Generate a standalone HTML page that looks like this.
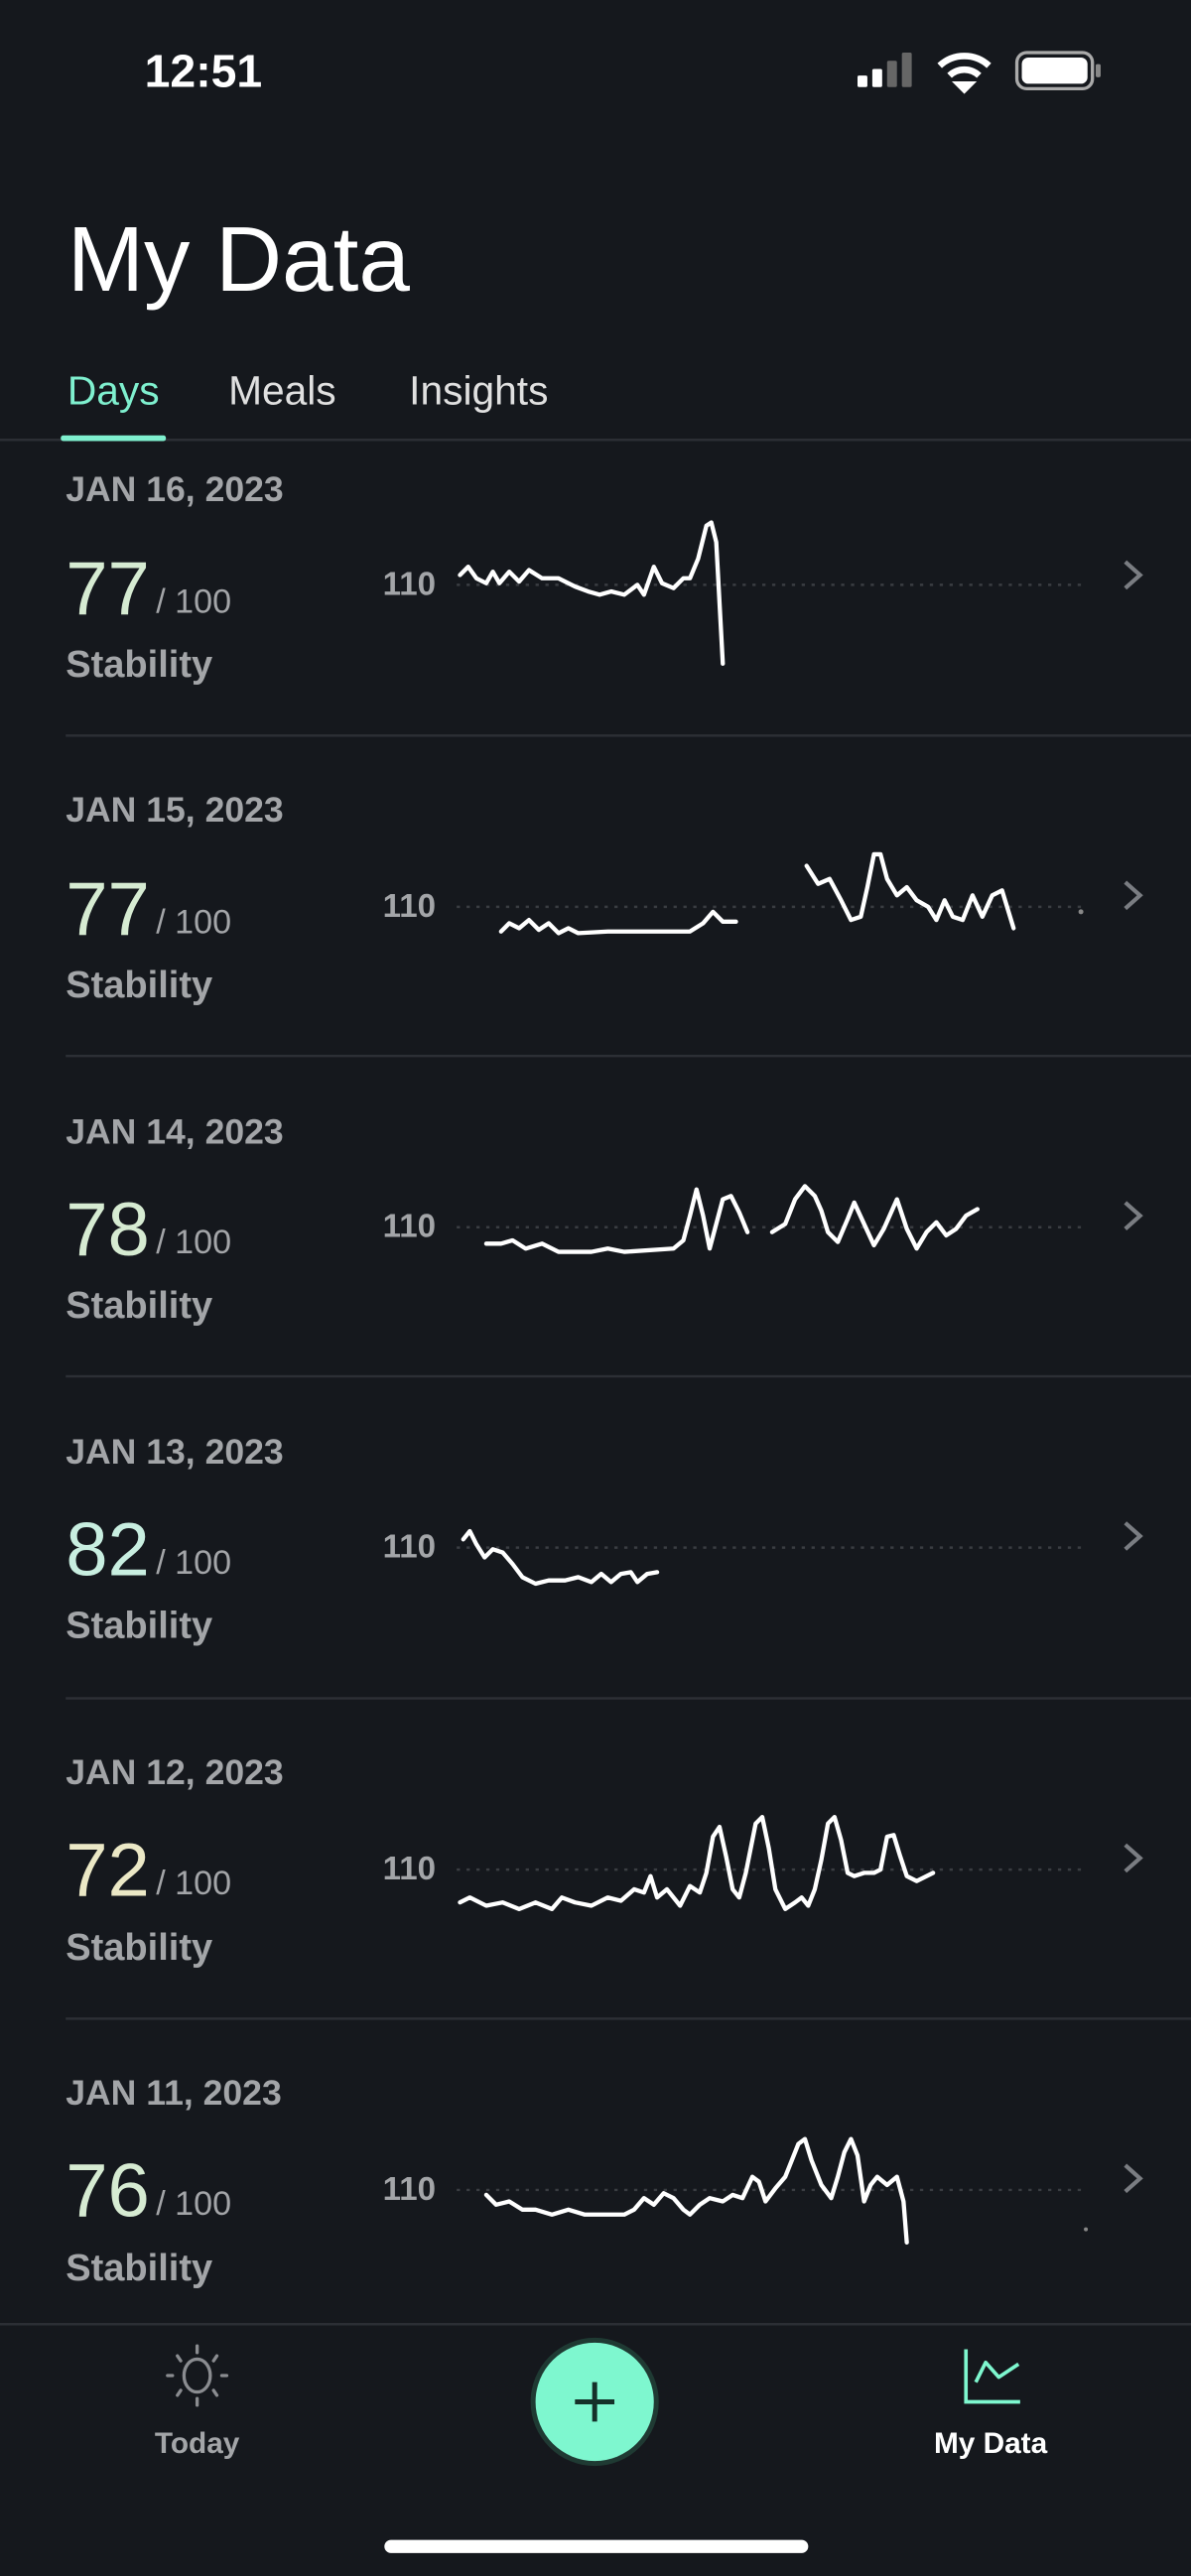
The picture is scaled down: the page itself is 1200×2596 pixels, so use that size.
<!DOCTYPE html>
<html><head><meta charset="utf-8"><style>
html,body{margin:0;padding:0;background:#15181d;}
svg{display:block}
text{font-family:"Liberation Sans",sans-serif;}
</style></head><body>
<svg width="1200" height="2596" viewBox="0 0 725 1568" preserveAspectRatio="none" xmlns="http://www.w3.org/2000/svg">
<rect width="725" height="1568" fill="#15181d"/>
<text x="88" y="53" font-size="28" font-weight="bold" fill="#fff">12:51</text>
<rect x="522" y="46" width="6" height="7" rx="1" fill="#fff"/>
<rect x="531" y="42" width="6" height="11" rx="1" fill="#fff"/>
<rect x="540" y="37" width="6" height="16" rx="1" fill="#666"/>
<rect x="549" y="32" width="6" height="21" rx="1" fill="#666"/>
<path d="M572 40 A22 22 0 0 1 602 40" stroke="#fff" stroke-width="4" fill="none"/>
<path d="M578 46 A13 13 0 0 1 596 46" stroke="#fff" stroke-width="4" fill="none"/>
<path d="M583 51 L587 55 L591 51 Z" fill="#fff" stroke="#fff" stroke-width="3"/>
<rect x="619" y="32" width="46" height="22" rx="6" stroke="#aaa" stroke-width="2" fill="none"/>
<rect x="622" y="35" width="40" height="16" rx="4" fill="#fff"/>
<rect x="667" y="39" width="3" height="8" rx="1" fill="#888"/>
<text x="41" y="177" font-size="56" fill="#fff">My Data</text>
<text x="41" y="246" font-size="24.6" fill="#7ff0cf">Days</text>
<text x="139" y="246" font-size="24.6" fill="#e0e0e0">Meals</text>
<text x="249" y="246" font-size="24.6" fill="#e0e0e0">Insights</text>
<rect x="0" y="267" width="725" height="1.5" fill="#2c2f35"/>
<rect x="37" y="265" width="64" height="3.5" rx="1.5" fill="#7ff0cf"/>

<g id="rows">
<g font-size="21.5" font-weight="bold" fill="#a3a5a8">
<text x="40" y="305">JAN 16, 2023</text>
<text x="40" y="500">JAN 15, 2023</text>
<text x="40" y="696">JAN 14, 2023</text>
<text x="40" y="891">JAN 13, 2023</text>
<text x="40" y="1086">JAN 12, 2023</text>
<text x="40" y="1281">JAN 11, 2023</text>
</g>
<g font-size="46">
<text x="40" y="374" fill="#d6ebd2">77</text>
<text x="40" y="569" fill="#d6ebd2">77</text>
<text x="40" y="764" fill="#d6ebd2">78</text>
<text x="40" y="959" fill="#c8eee0">82</text>
<text x="40" y="1154" fill="#ebe8c6">72</text>
<text x="40" y="1349" fill="#d6ebd2">76</text>
</g>
<g font-size="20.6" fill="#a3a5a8">
<text x="95" y="373">/ 100</text>
<text x="95" y="568">/ 100</text>
<text x="95" y="763">/ 100</text>
<text x="95" y="958">/ 100</text>
<text x="95" y="1153">/ 100</text>
<text x="95" y="1348">/ 100</text>
</g>
<g font-size="23" font-weight="bold" fill="#a3a5a8">
<text x="40" y="412">Stability</text>
<text x="40" y="607">Stability</text>
<text x="40" y="802">Stability</text>
<text x="40" y="997">Stability</text>
<text x="40" y="1193">Stability</text>
<text x="40" y="1388">Stability</text>
</g>
<g font-size="20" font-weight="bold" fill="#a3a5a8">
<text x="233" y="362">110</text>
<text x="233" y="558">110</text>
<text x="233" y="753">110</text>
<text x="233" y="948">110</text>
<text x="233" y="1144">110</text>
<text x="233" y="1339">110</text>
</g>
<g stroke="#3a3d42" stroke-width="1.5" stroke-dasharray="2 4">
<line x1="278" y1="356" x2="662" y2="356"/>
<line x1="278" y1="552" x2="662" y2="552"/>
<line x1="278" y1="747" x2="662" y2="747"/>
<line x1="278" y1="942" x2="662" y2="942"/>
<line x1="278" y1="1138" x2="662" y2="1138"/>
<line x1="278" y1="1333" x2="662" y2="1333"/>
</g>
<g stroke="#7a7d82" stroke-width="2.5" fill="none">
<path d="M685 342 L694 350 L685 358"/>
<path d="M685 537 L694 545 L685 553"/>
<path d="M685 732 L694 740 L685 748"/>
<path d="M685 927 L694 935 L685 943"/>
<path d="M685 1123 L694 1131 L685 1139"/>
<path d="M685 1318 L694 1326 L685 1334"/>
</g>
<g fill="#2c2f35">
<rect x="40" y="447" width="685" height="1.5"/>
<rect x="40" y="642" width="685" height="1.5"/>
<rect x="40" y="837" width="685" height="1.5"/>
<rect x="40" y="1033" width="685" height="1.5"/>
<rect x="40" y="1228" width="685" height="1.5"/>
</g>
<g stroke="#fff" stroke-width="2.6" fill="none" stroke-linejoin="round" stroke-linecap="round">
<polyline points="280,350 285,345 290,352 296,355 300,348 304,355 310,348 316,354 322,347 330,352 340,352 350,357 358,360 365,362 372,360 380,362 388,356 392,362 398,345 403,355 410,358 416,352 420,352 425,340 430,320 433,318 436,330 440,404"/>
<polyline points="305,567 310,562 316,565 322,560 328,566 334,562 340,568 346,565 352,568 370,567 390,567 410,567 420,567 428,562 434,555 440,561 448,561"/>
<polyline points="491,527 498,538 505,535 512,548 518,560 524,558 528,540 532,520 536,520 540,535 546,545 552,540 558,548 565,552 570,560 575,548 580,558 586,560 592,545 598,558 604,545 610,542 617,565"/>
<polyline points="296,757 305,757 312,755 320,760 330,757 340,762 360,762 370,760 380,762 410,760 416,755 420,740 424,724 428,740 432,760 436,745 440,730 445,728 450,738 455,750"/>
<polyline points="470,750 478,745 484,730 490,722 496,728 500,737 504,750 510,756 516,742 520,732 526,745 532,758 538,748 546,730 552,748 558,760 564,750 570,744 576,752 582,748 588,740 595,736"/>
<polyline points="282,937 286,932 290,940 295,948 300,943 306,945 312,952 318,960 326,964 334,962 344,962 352,960 360,963 366,958 372,963 378,958 384,957 388,963 394,958 400,957"/>
<polyline points="280,1158 286,1155 296,1160 306,1158 316,1162 326,1158 336,1162 342,1155 350,1158 360,1160 370,1155 378,1157 386,1150 392,1152 396,1142 400,1155 406,1150 414,1160 420,1148 426,1152 430,1140 434,1118 438,1112 442,1130 446,1150 450,1155 454,1140 460,1110 464,1106 468,1125 472,1150 478,1162 484,1158 488,1155 492,1160 496,1150 500,1132 504,1110 508,1106 512,1120 516,1140 520,1142 526,1140 532,1140 536,1138 540,1118 544,1117 548,1130 552,1142 558,1145 568,1140"/>
<polyline points="296,1336 302,1342 310,1340 318,1345 326,1345 336,1348 346,1345 356,1348 370,1348 380,1348 386,1345 392,1338 398,1342 404,1335 410,1338 416,1345 420,1348 426,1342 432,1338 440,1340 446,1336 452,1338 458,1325 462,1328 466,1340 472,1332 478,1325 486,1305 490,1302 494,1315 500,1330 506,1338 510,1325 514,1310 518,1302 522,1312 526,1340 530,1330 534,1325 540,1330 546,1325 550,1340 552,1365"/>
</g>
<circle cx="658" cy="555" r="1.5" fill="#888"/>
<circle cx="661" cy="1357" r="1.2" fill="#888"/>
</g>

<rect x="0" y="1415" width="725" height="153" fill="#15181d"/>
<rect x="0" y="1414" width="725" height="1.5" fill="#2c2f35"/>
<g stroke="#8a8c90" stroke-width="2" fill="none" stroke-linecap="round">
<ellipse cx="120" cy="1446" rx="8" ry="10"/>
<line x1="120" y1="1428" x2="120" y2="1432"/><line x1="120" y1="1460" x2="120" y2="1464"/>
<line x1="102" y1="1446" x2="105" y2="1446"/><line x1="135" y1="1446" x2="138" y2="1446"/>
<line x1="108" y1="1434" x2="110" y2="1437"/><line x1="132" y1="1434" x2="130" y2="1437"/>
<line x1="108" y1="1458" x2="110" y2="1455"/><line x1="132" y1="1458" x2="130" y2="1455"/>
</g>
<text x="120" y="1493" font-size="18" font-weight="bold" fill="#a3a5a8" text-anchor="middle">Today</text>
<circle cx="362" cy="1462" r="39" fill="#1f3a33"/>
<circle cx="362" cy="1462" r="36" fill="#7ef7cf"/>
<path d="M362 1450 V1474 M350 1462 H374" stroke="#15312a" stroke-width="3"/>
<path d="M588 1430 V1462 H621" stroke="#7ef7cf" stroke-width="2.2" fill="none"/>
<path d="M594 1450 L600 1438 L608 1447 L620 1439" stroke="#7ef7cf" stroke-width="2.2" fill="none" stroke-linejoin="round"/>
<text x="603" y="1493" font-size="18" font-weight="bold" fill="#fff" text-anchor="middle">My Data</text>
<rect x="234" y="1546" width="258" height="8" rx="4" fill="#fff"/>
</svg>
</body></html>
